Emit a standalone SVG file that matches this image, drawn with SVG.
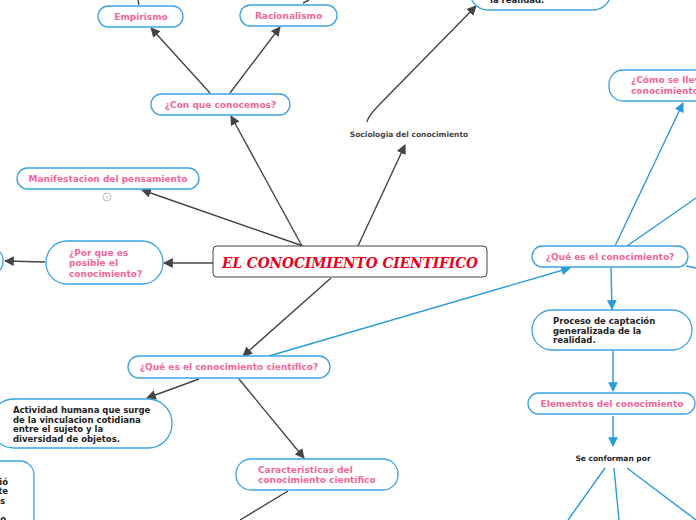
<svg xmlns="http://www.w3.org/2000/svg" width="696" height="520" viewBox="0 0 696 520">
<defs>
<marker id="ad" viewBox="0 0 10 10" refX="9" refY="5" markerWidth="7" markerHeight="7" orient="auto"><path d="M0,0 L10,5 L0,10 z" fill="#444"/></marker>
<marker id="ab" viewBox="0 0 10 10" refX="9" refY="5" markerWidth="7" markerHeight="7" orient="auto"><path d="M0,0 L10,5 L0,10 z" fill="#2a9ad8"/></marker>
<style>
.n{fill:#fff;stroke:#3ea2e2;stroke-width:1.3}
.p{font-family:"DejaVu Sans",sans-serif;font-weight:bold;font-size:9px;fill:#f0679a}
.d{font-family:"DejaVu Sans",sans-serif;font-weight:bold;font-size:8.5px;fill:#222}
.cd{stroke:#444;stroke-width:1.4;fill:none;marker-end:url(#ad)}
.cb{stroke:#2a9ad8;stroke-width:1.4;fill:none;marker-end:url(#ab)}
.cn{stroke:#444;stroke-width:1.4;fill:none}
.cbn{stroke:#2a9ad8;stroke-width:1.4;fill:none}
</style>
</defs>
<rect width="696" height="520" fill="#fff"/>
<g id="connectors">
<line class="cd" x1="302" y1="246" x2="231" y2="116"/>
<line class="cd" x1="303" y1="246" x2="142" y2="190"/>
<line class="cd" x1="213" y1="263" x2="164" y2="263"/>
<line class="cd" x1="45" y1="262" x2="5" y2="261"/>
<line class="cd" x1="358" y1="246" x2="405" y2="145"/>
<path class="cd" d="M367,122 Q368,116 380,104 L476,6"/>
<line class="cd" x1="210" y1="93" x2="151" y2="28"/>
<line class="cd" x1="230" y1="93" x2="280" y2="27"/>
<path class="cn" d="M139,5 L138,0 M303,3 L309,0"/>
<line class="cd" x1="331" y1="278" x2="243" y2="356"/>
<line class="cd" x1="199" y1="379" x2="147" y2="398"/>
<line class="cd" x1="239" y1="379" x2="304" y2="458"/>
<line class="cn" x1="288" y1="491" x2="240" y2="520"/>
<line class="cb" x1="269" y1="356" x2="570" y2="268"/>
<line class="cb" x1="615" y1="246" x2="683" y2="103"/>
<line class="cbn" x1="627" y1="246" x2="696" y2="198"/>
<line class="cbn" x1="686" y1="266" x2="696" y2="268"/>
<line class="cb" x1="611" y1="268" x2="612" y2="309"/>
<line class="cb" x1="613" y1="351" x2="613" y2="391"/>
<line class="cb" x1="613" y1="416" x2="613" y2="446"/>
<path class="cbn" d="M605,468 L568,520 M614,468 L619,520 M627,468 L696,520"/>
</g>
<g id="n-empirismo"><rect class="n" x="98" y="6" width="85" height="21" rx="10.5"/><text class="p" x="141" y="20" text-anchor="middle">Empirismo</text></g>
<g id="n-racionalismo"><rect class="n" x="240" y="5" width="97" height="21" rx="10.5"/><text class="p" x="288.5" y="19" text-anchor="middle">Racionalismo</text></g>
<g id="n-conque"><rect class="n" x="151" y="94" width="139" height="21" rx="10.5"/><text class="p" x="220.5" y="108" text-anchor="middle">¿Con que conocemos?</text></g>
<g id="n-manifestacion"><rect class="n" x="17" y="168" width="182" height="21" rx="10.5"/><text class="p" x="108" y="182" text-anchor="middle">Manifestacion del pensamiento</text>
<circle cx="107" cy="197" r="4" fill="#fff" stroke="#bbb" stroke-width="1"/><line x1="107" y1="195.5" x2="107" y2="198.5" stroke="#bbb"/></g>
<g id="n-porque"><rect class="n" x="46" y="241" width="117" height="43" rx="21"/><text class="p" x="69" y="256">¿Por que es</text><text class="p" x="69" y="266">posible el</text><text class="p" x="69" y="277">conocimiento?</text></g>
<g id="n-left"><rect class="n" x="-50" y="248" width="53" height="26" rx="12"/></g>
<g id="n-central"><rect x="213" y="246" width="274" height="31" rx="4" fill="#fff" stroke="#444" stroke-width="1"/><text x="350" y="268" text-anchor="middle" font-family="'DejaVu Serif',serif" font-style="italic" font-weight="bold" font-size="15" fill="#e8001c" textLength="256" lengthAdjust="spacingAndGlyphs">EL CONOCIMIENTO CIENTIFICO</text></g>
<g id="n-sociologia"><text x="409" y="137" text-anchor="middle" font-family="'DejaVu Sans',sans-serif" font-weight="bold" font-size="7.5" fill="#444">Sociologia del conocimiento</text></g>
<g id="n-realidad"><rect class="n" x="470" y="-30" width="141" height="40" rx="18"/><text class="d" x="490" y="3">la realidad.</text></g>
<g id="n-como"><rect class="n" x="609" y="70" width="100" height="31" rx="14"/><text class="p" x="631" y="83">¿Cómo se llev</text><text class="p" x="631" y="94">conocimiento</text></g>
<g id="n-quees"><rect class="n" x="532" y="246" width="156" height="21" rx="10.5"/><text class="p" x="610" y="260" text-anchor="middle">¿Qué es el conocimiento?</text></g>
<g id="n-proceso"><rect class="n" x="532" y="310" width="160" height="40" rx="20"/><text class="d" x="553" y="324">Proceso de captación</text><text class="d" x="553" y="334">generalizada de la</text><text class="d" x="553" y="343">realidad.</text></g>
<g id="n-elementos"><rect class="n" x="528" y="393" width="167" height="21" rx="10.5"/><text class="p" x="612" y="407" text-anchor="middle">Elementos del conocimiento</text></g>
<g id="n-conforman"><text x="613" y="461" text-anchor="middle" font-family="'DejaVu Sans',sans-serif" font-weight="bold" font-size="7.5" fill="#222">Se conforman por</text></g>
<g id="n-cientifico"><rect class="n" x="128" y="356" width="202" height="22" rx="11"/><text class="p" x="229" y="370" text-anchor="middle">¿Qué es el conocimiento científico?</text></g>
<g id="n-actividad"><rect class="n" x="-10" y="399" width="182" height="49" rx="24"/><text class="d" x="13" y="413">Actividad humana que surge</text><text class="d" x="13" y="423">de la vinculacion cotidiana</text><text class="d" x="13" y="432">entre el sujeto y la</text><text class="d" x="13" y="442">diversidad de objetos.</text></g>
<g id="n-caracteristicas"><rect class="n" x="236" y="459" width="162" height="31" rx="15"/><text class="p" x="258" y="473">Caracteristicas del</text><text class="p" x="258" y="483">conocimiento científico</text></g>
<g id="n-bottomleft"><rect class="n" x="-50" y="461" width="84" height="80" rx="14"/><text class="d" x="8" y="485" text-anchor="end">ió</text><text class="d" x="8" y="494" text-anchor="end">te</text><text class="d" x="5" y="504" text-anchor="end">s</text><text class="d" x="6" y="522" text-anchor="end">o</text></g>
</svg>
